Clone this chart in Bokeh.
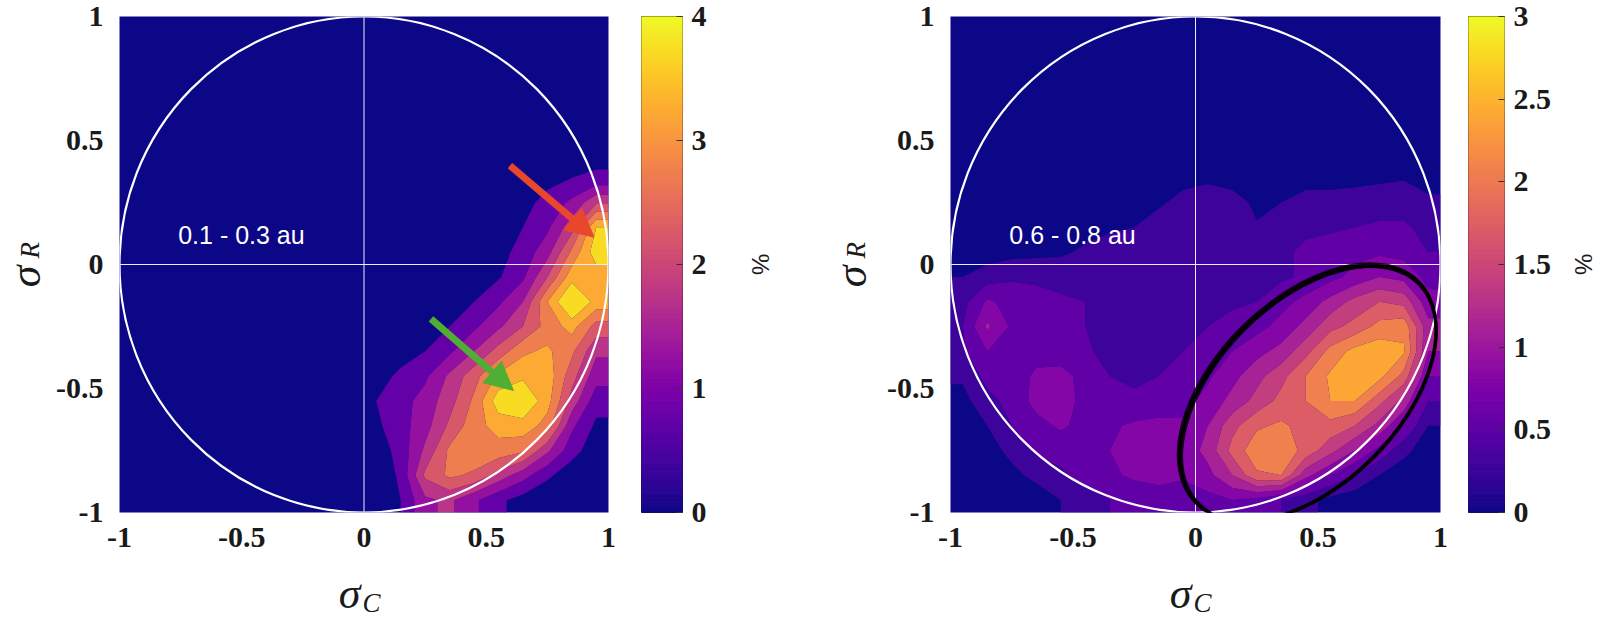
import numpy as np
from bokeh.plotting import figure
from bokeh.models import Range1d, FixedTicker, Label, Arrow, NormalHead
from bokeh.layouts import row, column
from bokeh.palettes import Plasma256
from bokeh.embed import file_html
from bokeh.resources import INLINE

# ---------------- data ----------------
bin_centers = [-0.95, -0.85, -0.75, -0.65, -0.55, -0.45, -0.35, -0.25, -0.15, -0.05,
               0.05, 0.15, 0.25, 0.35, 0.45, 0.55, 0.65, 0.75, 0.85, 0.95]

Z10 = [0] * 10
# occurrence (%) for 0.1 - 0.3 au ; rows from sigma_R = 0.95 (top) to -0.95 (bottom), cols sigma_C -0.95..0.95
inner_rows = [
    Z10 + [0, 0, 0, 0, 0, 0, 0, 0, 0, 0],
    Z10 + [0, 0, 0, 0, 0, 0, 0, 0, 0, 0],
    Z10 + [0, 0, 0, 0, 0, 0, 0, 0, 0, 0],
    Z10 + [0, 0, 0, 0, 0, 0, 0, 0, 0, 0],
    Z10 + [0, 0, 0, 0, 0, 0, 0, 0, 0, 0],
    Z10 + [0, 0, 0, 0, 0, 0, 0, 0.1, 0.2, 0.3],
    Z10 + [0, 0, 0, 0, 0, 0, 0.1, 0.3, 0.5, 0.6],
    Z10 + [0, 0, 0, 0, 0, 0, 0.3, 0.7, 1.1, 1.9],
    Z10 + [0, 0, 0, 0, 0, 0.2, 0.5, 0.9, 1.8, 3.5],
    Z10 + [0, 0, 0, 0, 0.1, 0.3, 0.7, 1.3, 2.6, 3.8],
    Z10 + [0, 0, 0, 0.1, 0.3, 0.45, 0.9, 2.0, 3.3, 3.2],
    Z10 + [0, 0, 0.1, 0.3, 0.5, 0.9, 1.5, 3.0, 4.2, 3.3],
    Z10 + [0, 0.1, 0.3, 0.5, 0.9, 1.4, 2.0, 2.7, 3.2, 2.3],
    Z10 + [0.1, 0.3, 0.5, 0.9, 1.5, 2.2, 2.9, 3.1, 2.6, 1.6],
    Z10 + [0.3, 0.6, 0.9, 1.6, 2.3, 3.1, 3.4, 3.3, 2.2, 1.2],
    Z10 + [0.5, 0.8, 1.2, 1.8, 2.6, 3.8, 4.0, 3.2, 1.8, 0.7],
    Z10 + [0.4, 0.8, 1.3, 2.1, 2.8, 3.2, 3.3, 2.8, 1.1, 0.4],
    Z10 + [0.2, 0.7, 1.6, 2.6, 2.9, 2.8, 2.6, 1.6, 0.7, 0.2],
    Z10 + [0.1, 0.6, 2.1, 2.6, 2.4, 1.8, 1.2, 0.6, 0.2, 0],
    Z10 + [0, 0.5, 1.4, 1.6, 1.1, 0.6, 0.3, 0.1, 0, 0],
]

# occurrence (%) for 0.6 - 0.8 au
outer_rows = [
    [0] * 20,
    [0] * 20,
    [0] * 20,
    [0] * 20,
    Z10 + [0.05, 0.1, 0.05, 0, 0, 0, 0.05, 0.1, 0.1, 0.05],
    [0, 0, 0, 0, 0, 0, 0, 0, 0.05, 0.1, 0.15, 0.15, 0.1, 0.1, 0.1, 0.1, 0.15, 0.15, 0.15, 0.1],
    [0, 0, 0, 0, 0, 0, 0, 0.05, 0.1, 0.2, 0.25, 0.2, 0.1, 0.15, 0.2, 0.2, 0.2, 0.25, 0.28, 0.2],
    [0, 0, 0, 0, 0.05, 0.1, 0.15, 0.2, 0.25, 0.4, 0.45, 0.4, 0.25, 0.3, 0.4, 0.4, 0.45, 0.45, 0.45, 0.35],
    [0, 0, 0.05, 0.1, 0.15, 0.2, 0.25, 0.3, 0.45, 0.5, 0.5, 0.45, 0.32, 0.45, 0.55, 0.55, 0.6, 0.65, 0.65, 0.5],
    [0.1, 0.15, 0.2, 0.22, 0.25, 0.35, 0.45, 0.5, 0.55, 0.55, 0.55, 0.5, 0.5, 0.55, 0.65, 0.75, 0.8, 0.85, 0.8, 0.6],
    [0.3, 0.45, 0.55, 0.55, 0.5, 0.45, 0.4, 0.4, 0.4, 0.4, 0.45, 0.45, 0.5, 0.55, 0.65, 0.8, 1.0, 1.2, 1.1, 0.8],
    [0.5, 0.95, 0.8, 0.7, 0.65, 0.6, 0.45, 0.4, 0.4, 0.45, 0.5, 0.55, 0.6, 0.8, 1.0, 1.3, 1.6, 1.8, 1.7, 1.0],
    [0.6, 1.25, 0.85, 0.7, 0.65, 0.6, 0.45, 0.4, 0.45, 0.5, 0.6, 0.7, 0.8, 1.0, 1.3, 1.7, 1.9, 2.2, 2.3, 1.3],
    [0.55, 0.9, 0.85, 0.8, 0.75, 0.65, 0.5, 0.45, 0.5, 0.6, 0.75, 0.9, 1.1, 1.3, 1.7, 2.2, 2.5, 2.6, 2.45, 1.2],
    [0.35, 0.7, 0.75, 0.95, 1.0, 0.8, 0.6, 0.55, 0.6, 0.7, 0.85, 1.1, 1.4, 1.7, 2.1, 2.45, 2.6, 2.5, 2.0, 0.9],
    [0.2, 0.5, 0.7, 1.0, 1.05, 0.8, 0.7, 0.65, 0.7, 0.8, 1.0, 1.3, 1.6, 1.9, 2.1, 2.4, 2.4, 1.9, 1.4, 0.6],
    [0.1, 0.3, 0.6, 0.8, 0.95, 0.8, 0.85, 0.95, 1.0, 0.95, 1.2, 1.7, 2.05, 2.15, 2.0, 2.0, 1.8, 1.4, 0.9, 0.3],
    [0, 0.15, 0.4, 0.65, 0.7, 0.75, 0.9, 1.0, 1.05, 1.0, 1.3, 1.9, 2.3, 2.3, 2.0, 1.6, 1.2, 0.8, 0.4, 0.1],
    [0, 0, 0.2, 0.4, 0.55, 0.7, 0.85, 0.95, 1.0, 0.95, 1.1, 1.5, 2.05, 2.1, 1.3, 0.9, 0.6, 0.3, 0.1, 0],
    [0, 0, 0, 0.1, 0.3, 0.45, 0.6, 0.7, 0.75, 0.7, 0.8, 0.9, 0.8, 0.6, 0.4, 0.2, 0.1, 0, 0, 0],
]

inner_levels = [0.5, 1.0, 1.5, 2.0, 2.5, 3.0, 3.5, 4.5]
inner_band_frac = [0.185, 0.31, 0.435, 0.56, 0.685, 0.81, 0.935]
outer_levels = [0.3, 0.6, 0.9, 1.2, 1.5, 1.8, 2.1, 2.4, 2.7, 3.0]
outer_band_frac = [0.09, 0.175, 0.27, 0.37, 0.47, 0.575, 0.69, 0.8, 0.9]

inner_cbar_max = 4
inner_cbar_ticks = [0, 1, 2, 3, 4]
outer_cbar_max = 3
outer_cbar_ticks = [0, 0.5, 1, 1.5, 2, 2.5, 3]
axis_ticks = [-1, -0.5, 0, 0.5, 1]

panel_labels = ["0.1 - 0.3 au", "0.6 - 0.8 au"]

# arrows (left panel): start and end in (sigma_C, sigma_R)
arrow_colors = ["#e8472b", "#4fae33"]
arrow_x0 = [0.597, 0.274]
arrow_y0 = [0.399, -0.219]
arrow_x1 = [0.941, 0.611]
arrow_y1 = [0.110, -0.508]

# hand-drawn ellipse (right panel), several overlapping strokes
ell_cx = [0.459, 0.462, 0.456, 0.460]
ell_cy = [-0.518, -0.521, -0.515, -0.523]
ell_w = [1.276, 1.268, 1.284, 1.274]
ell_h = [0.737, 0.730, 0.744, 0.738]
ell_ang = [0.785, 0.789, 0.781, 0.778]

NAVY = Plasma256[0]
TICK_FONT = "Liberation Serif"
TICK_SIZE = "30px"
TEXT_COLOR = "#1a1a1a"
TOP_H = 565          # height of the row holding the panels
LAB_H = 618 - TOP_H  # height of the row holding the sigma_C labels


def fmt(v):
    return ("%g" % v)


def blank_fig(width, height, xr, yr, bt=0, bb=0):
    p = figure(width=width, height=height, x_range=xr, y_range=yr, output_backend="svg",
               toolbar_location=None, x_axis_type=None, y_axis_type=None,
               min_border_left=0, min_border_right=0, min_border_top=bt, min_border_bottom=bb)
    p.outline_line_color = None
    p.grid.visible = False
    p.background_fill_color = None
    p.border_fill_color = None
    return p


def main_fig(rows, levels, fracs, label, width, bl, br):
    p = figure(width=width, height=TOP_H, x_range=Range1d(-1, 1), y_range=Range1d(-1, 1),
               output_backend="svg", toolbar_location=None,
               min_border_left=bl, min_border_right=br, min_border_top=16,
               min_border_bottom=TOP_H - 512)
    p.background_fill_color = NAVY
    p.outline_line_color = None
    p.grid.visible = False
    z = np.flipud(np.array(rows, dtype=float))
    zp = np.pad(z, 1, mode="edge")
    g = np.concatenate([[-1.0], np.array(bin_centers), [1.0]])
    colors = [Plasma256[int(round(f * 255))] for f in fracs]
    p.contour(g, g, zp, levels, fill_color=colors, line_color=None)
    p.ellipse(x=[0], y=[0], width=[2], height=[2], fill_color=None, line_color="white", line_width=2.2)
    p.segment(x0=[-1, 0], y0=[0, -1], x1=[1, 0], y1=[0, 1], line_color="#eeeeff", line_width=1)
    p.add_layout(Label(x=-0.76, y=0.063, text=label, text_color="white",
                       text_font="Liberation Sans", text_font_size="25px"))
    for ax in (p.xaxis[0], p.yaxis[0]):
        ax.ticker = FixedTicker(ticks=axis_ticks)
        ax.major_label_overrides = {t: fmt(t) for t in axis_ticks}
        ax.major_label_text_font = TICK_FONT
        ax.major_label_text_font_style = "bold"
        ax.major_label_text_font_size = TICK_SIZE
        ax.major_label_text_color = TEXT_COLOR
        ax.major_tick_line_color = None
        ax.minor_tick_line_color = None
        ax.axis_line_color = None
    p.xaxis.major_label_standoff = 9
    p.yaxis.major_label_standoff = 10
    return p


def ylabel_fig(width, sigma_cx):
    # same vertical frame as the panels (sigma_R units); x in pixels
    p = blank_fig(width, TOP_H, Range1d(0, width), Range1d(-1, 1), bt=16, bb=TOP_H - 512)
    p.add_layout(Label(x=sigma_cx, y=-0.048, text="σ", angle=np.pi / 2,
                       text_align="center", text_baseline="middle", text_font=TICK_FONT,
                       text_font_style="italic", text_font_size="44px", text_color=TEXT_COLOR))
    p.add_layout(Label(x=sigma_cx + 4, y=0.024, text="R", angle=np.pi / 2,
                       text_align="left", text_baseline="middle", text_font=TICK_FONT,
                       text_font_style="italic", text_font_size="27px", text_color=TEXT_COLOR))
    return p


def xlabel_fig(width, sigma_cx):
    # frame covers the whole strip; ranges are in pixels (y measured up from the page bottom)
    p = blank_fig(width, LAB_H, Range1d(0, width), Range1d(0, LAB_H))
    p.add_layout(Label(x=sigma_cx, y=618 - 593, text="σ", text_align="center",
                       text_baseline="middle", text_font=TICK_FONT, text_font_style="italic",
                       text_font_size="44px", text_color=TEXT_COLOR))
    p.add_layout(Label(x=sigma_cx + 13, y=618 - 602, text="C", text_align="left",
                       text_baseline="middle", text_font=TICK_FONT, text_font_style="italic",
                       text_font_size="27px", text_color=TEXT_COLOR))
    return p


def cbar_fig(vmax, ticks, width, bl, pct_standoff):
    p = figure(width=width, height=TOP_H, x_range=Range1d(0, 1), y_range=Range1d(0, vmax),
               y_axis_location="right", output_backend="svg", toolbar_location=None,
               min_border_left=bl, min_border_right=width - bl - 41, min_border_top=16,
               min_border_bottom=TOP_H - 512)
    edges = np.linspace(0, vmax, len(Plasma256) + 1)
    p.quad(left=0, right=1, bottom=edges[:-1], top=edges[1:], fill_color=list(Plasma256),
           line_color=list(Plasma256), line_width=1)
    p.xaxis.visible = False
    p.grid.visible = False
    p.outline_line_color = "#222222"
    p.outline_line_width = 1
    ax = p.yaxis[0]
    ax.ticker = FixedTicker(ticks=ticks)
    ax.major_label_overrides = {t: fmt(t) for t in ticks}
    ax.major_label_text_font = TICK_FONT
    ax.major_label_text_font_style = "bold"
    ax.major_label_text_font_size = TICK_SIZE
    ax.major_label_text_color = TEXT_COLOR
    ax.major_tick_in = 6
    ax.major_tick_out = 0
    ax.major_tick_line_color = "#333333"
    ax.minor_tick_line_color = None
    ax.axis_line_color = None
    ax.major_label_standoff = 9
    ax.axis_label = "%"
    ax.axis_label_text_font = "Liberation Sans"
    ax.axis_label_text_font_style = "normal"
    ax.axis_label_text_font_size = "24px"
    ax.axis_label_text_color = TEXT_COLOR
    ax.axis_label_standoff = pct_standoff
    return p


# left panel
yl1 = ylabel_fig(53, 25)
f1 = main_fig(inner_rows, inner_levels, inner_band_frac, panel_labels[0], 577, 60, 22)
for c, x0, y0, x1, y1 in zip(arrow_colors, arrow_x0, arrow_y0, arrow_x1, arrow_y1):
    f1.add_layout(Arrow(end=NormalHead(size=28, fill_color=c, line_color=c),
                        x_start=x0, y_start=y0, x_end=x1, y_end=y1,
                        line_color=c, line_width=7))
c1 = cbar_fig(inner_cbar_max, inner_cbar_ticks, 170, 11, 37)

# right panel
yl2 = ylabel_fig(84, 51)
f2 = main_fig(outer_rows, outer_levels, outer_band_frac, panel_labels[1], 576, 60, 20)
f2.ellipse(x=ell_cx, y=ell_cy, width=ell_w, height=ell_h, angle=ell_ang,
           fill_color=None, line_color="black", line_width=2.6, line_alpha=0.85)
c2 = cbar_fig(outer_cbar_max, outer_cbar_ticks, 140, 8, 16)

xl1 = xlabel_fig(800, 349)
xl2 = xlabel_fig(800, 1180 - 800)

layout = column(row(yl1, f1, c1, yl2, f2, c2), row(xl1, xl2))
open("out.html", "w").write(file_html(layout, INLINE))
